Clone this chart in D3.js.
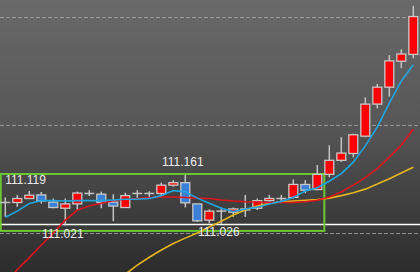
<!DOCTYPE html>
<html>
<head>
<meta charset="utf-8">
<script src="https://cdn.jsdelivr.net/npm/d3@7"></script>
<style>
  html, body { margin: 0; padding: 0; background: #333; }
  svg { display: block; }
  text { font-family: "Liberation Sans", Arial, sans-serif; font-size: 12px; fill: #ececec; }
</style>
</head>
<body>
<svg id="chart" width="420" height="272"></svg>
<script>
// 5 min bars
const times = ["13:00","13:05","13:10","13:15","13:20","13:25","13:30","13:35","13:40","13:45",
  "13:50","13:55","14:00","14:05","14:10","14:15","14:20","14:25","14:30","14:35",
  "14:40","14:45","14:50","14:55","15:00","15:05","15:10","15:15","15:20","15:25",
  "15:30","15:35","15:40","15:45","15:50"]

const open  = [111.085,111.085,111.096,111.106,111.086,111.069,111.081,111.110,111.108,111.086,
  111.071,111.110,111.110,111.110,111.133,111.140,111.081,111.036,111.061,111.058,
  111.067,111.069,111.090,111.096,111.099,111.135,111.121,111.163,111.202,111.221,
  111.269,111.358,111.405,111.477,111.496]
const high  = [111.099,111.106,111.117,111.114,111.096,111.096,111.115,111.119,111.115,111.108,
  111.112,111.119,111.116,111.140,111.147,111.161,111.081,111.066,111.071,111.071,
  111.106,111.096,111.106,111.106,111.149,111.147,111.189,111.244,111.266,111.276,
  111.377,111.414,111.494,111.510,111.631]
const low   = [111.045,111.073,111.095,111.082,111.069,111.021,111.062,111.103,111.069,111.033,
  111.070,111.096,111.096,111.104,111.129,111.071,111.031,111.027,111.026,111.045,
  111.045,111.064,111.087,111.087,111.096,111.111,111.119,111.155,111.198,111.210,
  111.266,111.346,111.379,111.458,111.485]
const close = [111.085,111.096,111.105,111.089,111.071,111.081,111.111,111.110,111.085,111.075,
  111.104,111.110,111.110,111.133,111.140,111.084,111.034,111.061,111.061,111.067,
  111.066,111.090,111.096,111.096,111.135,111.119,111.163,111.202,111.222,111.273,
  111.358,111.405,111.478,111.497,111.601]

// moving averages
const maFast = [111.044,111.061,111.082,111.090,111.090,111.089,111.090,111.090,111.090,111.092,
  111.094,111.094,111.096,111.104,111.118,111.115,111.097,111.083,111.069,111.060,
  111.067,111.072,111.081,111.088,111.099,111.117,111.126,111.144,111.165,111.197,
  111.242,111.294,111.361,111.422,111.467]
const maMid = [110.858,110.899,110.932,110.967,111.000,111.036,111.064,111.075,111.083,111.090,
  111.094,111.096,111.099,111.101,111.100,111.099,111.097,111.096,111.092,111.089,
  111.087,111.086,111.085,111.085,111.085,111.087,111.091,111.100,111.114,111.133,
  111.154,111.179,111.211,111.244,111.289]
const maSlow = [null,null,null,null,null,null,null,null,null,null,
  110.886,110.911,110.933,110.953,110.971,110.986,111.000,111.017,111.033,111.050,
  111.064,111.075,111.083,111.087,111.089,111.091,111.093,111.097,111.104,111.112,
  111.122,111.136,111.151,111.167,111.183]

const gridLevels = [111.0, 111.3, 111.6]
const lowLine = 111.024
const boxTop = 111.164, boxBottom = 111.006, boxFirst = 111.119
const boxStart = 0, boxEnd = 26
const highMarks = [{i: 15, v: 111.161}]
const lowMarks = [{i: 5, v: 111.021}, {i: 18, v: 111.026}]

const W = 420, H = 272
const svg = d3.select("#chart")

const x = d3.scaleBand().domain(times).range([-0.7, W - 0.7]).paddingInner(0.17).paddingOuter(0.085)
const y = d3.scaleLinear().domain([110.892, 111.647]).range([H, 0])
const cx = i => x(times[i]) + x.bandwidth() / 2
const fmt = d3.format(".3f")

// background
const grad = svg.append("defs").append("linearGradient")
  .attr("id", "bg").attr("x1", 0).attr("y1", 0).attr("x2", 0).attr("y2", 1)
grad.append("stop").attr("offset", 0).attr("stop-color", "#696969")
grad.append("stop").attr("offset", 0.45).attr("stop-color", "#575757")
grad.append("stop").attr("offset", 1).attr("stop-color", "#2c2c2c")
svg.append("rect").attr("width", W).attr("height", H).attr("fill", "url(#bg)")

// dashed grid
svg.append("g").attr("class", "grid")
  .call(d3.axisRight(y).tickValues(gridLevels).tickSize(W).tickFormat(""))
  .call(g => g.select(".domain").remove())
  .selectAll("line").attr("stroke", "#a8a8a8").attr("stroke-opacity", 0.8)
  .attr("stroke-dasharray", "4,2").attr("shape-rendering", "crispEdges")

// low line
svg.append("line").attr("x1", 0).attr("x2", W)
  .attr("y1", y(lowLine)).attr("y2", y(lowLine))
  .attr("stroke", "#fff").attr("stroke-width", 1.6)

// range box
const bx0 = x(times[boxStart]) + 0.4, bx1 = x(times[boxEnd]) + x.step()
svg.append("rect")
  .attr("x", bx0).attr("y", y(boxTop))
  .attr("width", bx1 - bx0).attr("height", y(boxBottom) - y(boxTop))
  .attr("fill", "none").attr("stroke", "#6cc832").attr("stroke-width", 2)

// candles
const bars = times.map((t, i) => ({t, i, o: open[i], h: high[i], l: low[i], c: close[i]}))
const candle = svg.append("g").selectAll("g").data(bars).join("g")

candle.append("line")
  .attr("x1", d => cx(d.i)).attr("x2", d => cx(d.i))
  .attr("y1", d => y(d.h)).attr("y2", d => y(d.l))
  .attr("stroke", "#c4c4c4").attr("stroke-width", 1.5)

candle.filter(d => d.o !== d.c).append("rect")
  .attr("x", d => x(d.t) + 0.5)
  .attr("y", d => y(Math.max(d.o, d.c)))
  .attr("width", x.bandwidth() - 1)
  .attr("height", d => Math.max(1, Math.abs(y(d.o) - y(d.c))))
  .attr("fill", d => d.c > d.o ? "#ff0000" : "#3b80d8")
  .attr("stroke", "#c8c8c8").attr("stroke-width", 1.3)

candle.filter(d => d.o === d.c).append("line")
  .attr("x1", d => x(d.t)).attr("x2", d => x(d.t) + x.bandwidth())
  .attr("y1", d => y(d.o)).attr("y2", d => y(d.o))
  .attr("stroke", "#c4c4c4").attr("stroke-width", 1.5)

// moving averages
const line = d3.line().defined(d => d != null).x((d, i) => cx(i)).y(d => y(d))
const mas = [[maSlow, "#e6b51e"], [maMid, "#e0141c"], [maFast, "#1ea6e2"]]
svg.append("g").selectAll("path").data(mas).join("path")
  .attr("d", d => line(d[0]))
  .attr("fill", "none").attr("stroke", d => d[1]).attr("stroke-width", 1.6)

// labels
svg.append("text").attr("x", bx0 + 4.5).attr("y", y(boxTop) + 9.5).text(fmt(boxFirst))
svg.append("g").selectAll("text").data(highMarks).join("text")
  .attr("x", d => cx(d.i) - 2.5).attr("y", d => y(d.v) - 9)
  .attr("text-anchor", "middle").text(d => fmt(d.v))
svg.append("g").selectAll("text").data(lowMarks).join("text")
  .attr("x", d => cx(d.i) - 2.5).attr("y", d => y(d.v) + 12.3)
  .attr("text-anchor", "middle").text(d => fmt(d.v))
</script>
</body>
</html>
